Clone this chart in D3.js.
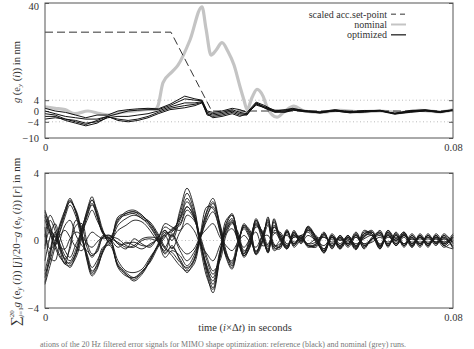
<!DOCTYPE html>
<html><head><meta charset="utf-8">
<script src="https://cdn.jsdelivr.net/npm/d3@7"></script>
<style>
html,body{margin:0;padding:0;background:#fff;}
svg, svg text{font-family:"Liberation Serif","DejaVu Serif",serif;}
</style></head>
<body><svg id="c" width="474" height="349" font-family="Liberation Serif, DejaVu Serif, serif"></svg>
<script>
// ---------- data (time in ms) ----------
const setpointT = [0, 24.7, 32.7, 80];
const setpointV = [29.2, 29.2, 0, 0];

const nominalT = [0,1.96,3.92,5.88,8.43,10.78,12.75,14.71,17.65,19.61,21.57,22.16,23.14,24.9,26.08,28.43,30.78,31.57,32.55,33.53,34.71,35.88,37.06,38.24,39.02,39.61,40.59,41.57,42.75,43.53,45.49,47.06,48.82,50.78,53.92,57.84,61.76,65.69,69.61,73.53,77.45,80];
const nominalV = [1.5,1.0,0.5,-1.0,0.0,-1.0,-1.5,-0.5,0.0,0.5,0.6,2.0,10.5,14.5,17.0,26.3,38.6,30.5,20.7,22.5,25.3,22.0,17.0,9.0,4.0,0.5,5.0,8.0,5.5,1.5,-2.3,0.0,1.8,0.0,-0.5,0.2,-0.3,0.0,-0.6,0.2,-0.3,0.4];

const optT = [0,2,4,6,8,10.2,12.3,14.3,16.3,18.2,20.2,22.2,24.5,27.4,29.4,30.8,31.8,32.9,34.7,36.7,38.2,39.6,41.4,43.1,45.1,47.1,48.6,51,53.9,56.9,59.8,62.7,65.7,68.6,71.6,74.5,77.5,80];
const opt1 = [1,0,-0.5,-1.5,-2.5,-1.5,-1.5,0,0.5,0.8,1,0.8,2.5,5.5,4.5,4,0,-0.5,0,1,0.5,-0.5,3.3,2,0,0.5,1,0,-0.5,0.3,-0.2,0.2,0,-0.8,0.2,0.3,-0.2,0.5];
const opt2 = [0,-1,-2,-2.5,-3,-3,-2,-1,0,0.3,0.5,0.5,2,4.5,4,3.8,-0.5,-1,-0.5,0.5,-0.5,-1,3,1.5,0.3,0.3,0.8,0.2,-0.3,0.5,-0.4,0,0.3,-1,0,0.5,-0.3,0.3];
const opt3 = [-1,-1.5,-3,-3.5,-4.5,-4,-2.5,-2,-2,-1.5,-1,0,1.5,3,3,3.5,-1,-1.5,-1,0,-1,-1.2,2.5,1.5,-0.2,0,0.5,-0.2,-0.6,0,-0.6,-0.3,0,-1.2,-0.3,0.2,-0.5,0.2];
const opt4 = [-2,-2,-3.5,-4.5,-5.5,-4.5,-2.2,-3,-3.5,-3,-2,-0.5,1,2,2.5,3.2,-1.5,-2,-1.5,-0.5,-1.5,-1.5,2.8,1,-0.5,-0.3,0.5,0,-0.8,0.2,-0.5,-0.2,0.2,-1,-0.5,0,-0.4,0.4];
const opt5 = [-3,-2.5,-3,-4,-5,-3.5,-2,-3.5,-4,-3.5,-2.5,-1,0.5,1.2,2,3,-1,-2.5,-2,-1,-2,-1,2.2,1.2,-0.3,-0.5,0.3,-0.3,-0.5,0,-0.7,-0.4,0.1,-0.9,-0.2,0.1,-0.6,0.3];

const devT = [0,0.98,1.96,2.94,3.92,4.90,6.08,7.25,8.24,9.22,10.20,11.37,12.75,14.31,15.88,17.45,19.02,20.59,22.16,23.53,24.90,26.47,27.84,29.22,30.39,31.76,32.94,34.31,35.49,36.67,37.84,39.02,40.20,41.37,42.55,43.73,44.90,46.08,47.45,48.82,50.20,51.57,53.14,54.71,56.27,57.84,59.41,60.98,62.55,64.12,65.69,67.25,68.82,70.39,71.96,73.53,75.10,76.67,78.24,80.00];
const dev1 = [1.8,0.9,0.2,0.8,1.8,2.5,1.6,0.2,-1.0,-1.9,-1.4,-0.4,-0.3,-1.5,-2.0,-2.4,-2.0,-1.2,-0.2,0.6,0.2,1.8,3.1,2.0,0.0,-2.0,-3.1,-1.0,1.0,1.6,0.2,-1.0,-0.3,1.3,0.4,-0.7,0.9,0.3,-0.5,0.4,0.0,0.8,0.1,-0.7,0.3,-0.4,0.2,-0.5,0.3,0.6,-0.4,0.5,-0.2,0.4,-0.3,0.2,-0.3,0.3,-0.2,0.3];
const dev2 = [-2.5,-1.0,0.3,-0.5,-1.2,-1.6,-0.8,0.6,1.8,2.6,1.6,0.5,0.2,1.2,1.7,1.8,1.5,1.0,0.2,-0.8,-0.3,-1.2,-1.9,-1.2,0.2,1.8,2.5,0.8,-1.0,-1.7,-0.3,1.0,0.4,-0.85,-0.2,1.4,-0.4,-0.5,0.6,-0.3,0.3,-0.4,-0.2,0.5,-0.5,0.3,-0.3,0.4,-0.5,0.2,0.5,-0.3,0.4,-0.4,0.3,-0.3,0.4,-0.2,0.3,-0.5];
const dev3 = [1.2,0.4,-0.3,0.5,1.4,2.1,1.4,0.0,-0.8,-1.6,-1.2,-0.5,0.0,-1.2,-1.8,-1.9,-1.7,-1.0,-0.3,0.4,0.5,1.4,2.5,1.6,0.1,-1.6,-2.6,-0.8,0.8,1.3,0.0,-0.8,0.2,1.0,0.1,-0.6,1.1,0.0,-0.4,0.6,-0.2,0.6,0.3,-0.5,0.4,-0.2,0.3,-0.3,0.2,0.5,-0.3,0.6,-0.1,0.5,-0.2,0.3,-0.2,0.2,-0.3,0.2];
const dev4 = [-1.8,-0.6,0.5,-0.2,-0.9,-1.2,-0.5,0.8,1.5,2.2,1.4,0.4,-0.1,0.9,1.3,1.5,1.3,0.8,0.0,-1.0,-0.6,-0.9,-1.5,-0.9,0.3,2.0,1.9,0.5,-0.8,-1.4,-0.2,0.8,0.2,-0.7,0.0,1.2,-0.2,-0.4,0.5,-0.1,0.2,-0.3,-0.4,0.3,-0.3,0.2,-0.4,0.2,-0.4,0.1,0.4,-0.2,0.3,-0.3,0.2,-0.4,0.3,-0.1,0.2,-0.4];
const dev5 = [0.4,-0.5,-0.2,0.3,0.6,0.2,-0.4,-0.6,0.1,0.5,0.3,0.1,0.2,0.1,-0.3,-0.4,0.0,0.1,0.0,0.3,-0.5,0.5,1.0,0.6,-0.2,-0.8,-1.2,-0.3,0.4,0.7,0.1,-0.4,0.1,0.5,-0.3,-0.2,0.5,0.1,-0.3,0.3,-0.1,0.3,0.0,-0.3,0.2,0.0,0.1,-0.2,0.1,0.3,-0.2,0.2,0.0,0.3,-0.1,0.1,-0.1,0.1,-0.1,0.1];
const dev6 = [-0.5,1.2,0.6,-0.6,-1.4,-0.3,1.2,0.8,-0.4,-1.0,-0.5,0.3,0.1,-0.4,-0.1,-0.3,-0.5,-0.2,0.1,1.0,0.8,0.6,1.5,1.2,0.3,-1.0,-1.8,-1.2,0.3,1.0,0.5,-0.6,-0.2,0.8,0.6,-0.3,0.4,0.5,-0.2,0.2,0.3,0.5,-0.1,-0.6,0.1,-0.5,0.3,-0.4,0.4,0.4,-0.5,0.4,-0.3,0.2,-0.4,0.3,-0.4,0.4,-0.1,0.4];
const dev7 = [-2.6,-1.5,-0.4,0.9,1.6,2.3,1.8,0.4,-1.2,-2.1,-1.7,-0.6,0.1,-1.6,-2.1,-2.2,-1.8,-1.3,-0.4,0.2,0.7,1.0,2.0,1.4,-0.1,-1.5,-2.2,-0.6,0.6,1.1,-0.1,-0.9,-0.4,1.1,0.5,-0.75,1.3,0.2,-0.5,0.5,0.1,0.85,0.2,-0.75,0.2,-0.5,0.0,-0.55,0.6,0.3,-0.5,0.6,0.1,0.5,-0.4,0.4,-0.2,0.1,-0.4,0.0];
const dev8 = [1.7,0.8,-0.2,-0.9,-1.4,-1.5,-1.0,0.2,1.6,2.4,1.8,0.6,-0.2,1.4,1.6,1.7,1.4,1.1,0.4,-0.4,-0.9,-1.5,-1.8,-1.4,0.0,1.4,2.2,1.0,-0.6,-1.5,-0.4,0.9,0.6,-0.8,0.3,1.0,-0.6,-0.3,0.65,-0.4,0.0,-0.3,-0.3,0.4,-0.4,0.3,-0.2,0.5,-0.3,0.0,0.6,-0.4,0.5,-0.2,0.4,-0.2,0.2,-0.3,0.4,-0.2];
const dev9 = [0.8,-1.0,-1.2,0.0,0.9,1.2,0.3,-0.3,-0.6,-0.9,-0.6,0.2,0.3,-0.2,-0.5,0.1,-0.2,-0.4,0.2,0.6,0.0,1.2,2.0,1.4,-0.3,-2.2,-2.9,-0.9,1.2,1.5,0.3,-0.8,0.0,1.2,0.2,-0.5,0.8,0.4,-0.4,0.2,0.1,0.7,0.0,-0.6,0.3,-0.3,0.2,-0.4,0.2,0.5,-0.3,0.3,-0.3,0.3,-0.2,0.2,-0.3,0.2,-0.2,0.2];
const dev10 = [-1.2,0.2,1.0,0.2,-0.6,-1.0,-0.2,0.5,1.2,1.8,1.2,0.5,0.0,0.6,0.9,1.2,1.1,0.6,-0.1,-0.6,0.3,-0.6,-1.2,-0.7,0.1,1.2,1.7,0.6,-0.9,-1.2,0.0,0.7,0.1,-0.6,-0.1,0.9,-0.3,-0.2,0.4,-0.2,0.2,-0.2,-0.1,0.2,-0.2,0.1,-0.2,0.3,-0.2,0.1,0.3,-0.1,0.2,-0.2,0.1,-0.2,0.2,-0.1,0.1,-0.3];
const dev11 = [1.5,0.6,0.0,0.6,1.6,2.3,1.7,0.3,-0.9,-1.8,-1.5,-0.6,-0.2,-1.4,-1.9,-2.2,-1.9,-1.1,-0.3,0.5,0.3,1.6,2.8,1.8,0.1,-1.8,-2.8,-0.9,0.9,1.5,0.3,-0.9,-0.2,1.2,0.5,-0.6,0.8,0.2,-0.4,0.5,-0.1,0.7,0.2,-0.6,0.3,-0.3,0.3,-0.4,0.4,0.5,-0.3,0.4,-0.3,0.4,-0.2,0.3,-0.2,0.3,-0.3,0.2];
const dev12 = [-2.2,-0.8,0.4,-0.4,-1.1,-1.4,-0.7,0.7,1.7,2.4,1.5,0.4,0.1,1.1,1.6,1.7,1.5,0.9,0.1,-0.7,-0.4,-1.1,-1.7,-1.1,0.2,1.7,2.3,0.7,-0.9,-1.6,-0.3,0.9,0.3,-0.8,-0.1,1.3,-0.3,-0.4,0.5,-0.2,0.3,-0.3,-0.3,0.4,-0.4,0.2,-0.2,0.3,-0.4,0.1,0.4,-0.3,0.3,-0.3,0.2,-0.3,0.3,-0.2,0.2,-0.4];
const dev13 = [-0.3,0.6,0.2,-0.4,-0.5,0.1,0.5,0.3,-0.2,-0.4,-0.1,0.2,0.1,-0.1,-0.4,-0.3,0.1,0.2,0.1,-0.4,0.4,-0.4,-0.8,-0.5,0.2,0.7,1.0,0.2,-0.3,-0.6,-0.1,0.3,-0.1,-0.4,0.2,0.3,-0.4,0.0,0.3,-0.2,0.1,-0.2,0.1,0.2,-0.1,0.1,-0.1,0.2,-0.2,-0.1,0.2,-0.2,0.1,-0.2,0.1,-0.1,0.1,-0.1,0.1,-0.1];
const dev14 = [-2.0,-1.2,-0.1,1.0,1.8,2.4,1.7,0.3,-1.1,-2.0,-1.6,-0.7,0.0,-1.5,-2.0,-2.3,-1.9,-1.2,-0.3,0.3,0.6,1.3,2.3,1.5,0.0,-1.7,-2.4,-0.7,0.7,1.2,0.0,-0.9,-0.3,1.0,0.4,-0.7,1.2,0.1,-0.5,0.4,0.0,0.8,0.1,-0.7,0.2,-0.4,0.1,-0.5,0.5,0.4,-0.4,0.5,0.0,0.4,-0.3,0.3,-0.3,0.2,-0.3,-0.5];
const dev15 = [1.4,0.5,-0.4,-1.0,-1.3,-1.3,-0.8,0.4,1.4,2.1,1.6,0.5,-0.1,1.3,1.5,1.6,1.3,1.0,0.3,-0.5,-0.7,-1.3,-1.6,-1.2,0.1,1.5,2.0,0.9,-0.7,-1.3,-0.3,0.8,0.5,-0.7,0.2,1.1,-0.5,-0.3,0.55,-0.3,0.1,-0.3,-0.2,0.4,-0.3,0.2,-0.3,0.4,-0.3,0.1,0.5,-0.3,0.4,-0.3,0.3,-0.2,0.3,-0.2,0.3,-0.1];
const dev16 = [0.2,1.5,0.9,-0.3,-1.1,-0.5,0.9,1.0,-0.1,-0.8,-0.7,0.2,0.3,-0.2,-0.2,-0.1,-0.3,-0.3,0.2,0.8,0.6,0.9,1.8,1.3,0.2,-1.2,-2.0,-1.0,0.5,1.1,0.3,-0.7,-0.1,0.9,0.4,-0.4,0.6,0.4,-0.3,0.3,0.2,0.6,0.0,-0.5,0.2,-0.4,0.2,-0.3,0.3,0.3,-0.4,0.3,-0.2,0.3,-0.3,0.2,-0.3,0.3,-0.2,0.3];

const topTicks = [40, 4, 0, -4, -10];
const botTicks = [4, 0, -4];
const xTickLabels = ["0", "0.08"];

// ---------- drawing ----------
const FONT = "Liberation Serif, DejaVu Serif, serif";
const TXT = "#333";
const svg = d3.select("#c");
const FS = 10.5;
const x = d3.scaleLinear().domain([0, 0.08]).range([45, 453]);
const yT = d3.scaleLinear().domain([-10, 40]).range([138, 3]);
const yB = d3.scaleLinear().domain([-4, 4]).range([308, 173]);
const frameCol = "#555";

function zip(t, v){ return t.map((d,i)=>[d/1000, v[i]]); }

function panel(y, ticks, refLines){
  const g = svg.append("g");
  refLines.forEach(v=>{
    g.append("line").attr("x1", x(0)).attr("x2", x(0.08)).attr("y1", y(v)).attr("y2", y(v))
     .attr("stroke", "#aaa").attr("stroke-width", 0.8).attr("stroke-dasharray", "1,2.5");
  });
  const la = d3.axisLeft(y).tickValues(ticks).tickSize(-4).tickPadding(6)
     .tickFormat(d=> d<0 ? "\u2212"+Math.abs(d) : String(d));
  const lg = g.append("g").attr("transform", `translate(${x(0)},0)`).call(la);
  lg.attr("font-family", FONT);
  lg.select(".domain").remove();
  lg.selectAll("line").attr("stroke", frameCol);
  lg.selectAll("text").attr("font-size", FS).attr("font-family", FONT).attr("fill", TXT)
    .attr("dy", d => d === 40 ? "0.62em" : "0.32em");
  const ra = d3.axisRight(y).tickValues(ticks).tickSize(-4).tickFormat("");
  const rg = g.append("g").attr("transform", `translate(${x(0.08)},0)`).call(ra);
  rg.select(".domain").remove();
  rg.selectAll("line").attr("stroke", frameCol);
  const ba = d3.axisBottom(x).tickValues([0, 0.08]).tickSize(0).tickPadding(6)
     .tickFormat((d,i)=>xTickLabels[i]);
  const bg = g.append("g").attr("transform", `translate(0,${y.range()[0]})`).call(ba);
  bg.attr("font-family", FONT);
  bg.select(".domain").remove();
  bg.selectAll("text").attr("font-size", FS).attr("font-family", FONT).attr("fill", TXT);
  return g;
}

function frame(y){
  svg.append("rect").attr("x", x(0)).attr("y", y.range()[1]).attr("width", x(0.08)-x(0))
     .attr("height", y.range()[0]-y.range()[1]).attr("fill", "none").attr("stroke", frameCol).attr("stroke-width", 1);
}
function txt(sel){ return sel.attr("font-family", FONT).attr("fill", TXT); }

// ---- top panel ----
panel(yT, topTicks, [4, -4]);
svg.append("path").datum(zip(nominalT, nominalV))
   .attr("d", d3.line().x(d=>x(d[0])).y(d=>yT(d[1])).curve(d3.curveMonotoneX))
   .attr("fill", "none").attr("stroke", "#c4c4c4").attr("stroke-width", 3.2).attr("stroke-linejoin", "round");
svg.append("path").datum(zip(setpointT, setpointV))
   .attr("d", d3.line().x(d=>x(d[0])).y(d=>yT(d[1])))
   .attr("fill", "none").attr("stroke", "#333").attr("stroke-width", 1).attr("stroke-dasharray", "8,4");
[opt1, opt2, opt3, opt4, opt5].forEach(s=>{
  svg.append("path").datum(zip(optT, s)).attr("d", d3.line().x(d=>x(d[0])).y(d=>yT(d[1])))
    .attr("fill", "none").attr("stroke", "#111").attr("stroke-width", 1);
});
frame(yT);

// legend
const legend = [
  {label: "scaled acc.set-point", stroke: "#333", w: 1, dash: "5,4"},
  {label: "nominal", stroke: "#c4c4c4", w: 2, dash: null},
  {label: "optimized", stroke: "#111", w: 1.2, dash: null}
];
const legY = d3.scaleBand().domain(legend.map(d=>d.label)).range([9, 40]);
legend.forEach(d=>{
  const cy = legY(d.label) + legY.bandwidth()/2;
  txt(svg.append("text")).attr("x", 387).attr("y", cy).attr("dy", "0.35em").attr("text-anchor", "end")
     .attr("font-size", 10).text(d.label);
  const l = svg.append("line").attr("x1", 391).attr("x2", 406).attr("y1", cy).attr("y2", cy)
     .attr("stroke", d.stroke).attr("stroke-width", d.w);
  if (d.dash) l.attr("stroke-dasharray", d.dash);
});

// top y label
const tyl = txt(svg.append("text")).attr("transform", "translate(20,72) rotate(-90)").attr("text-anchor", "middle")
   .attr("font-size", 10.5);
tyl.append("tspan").attr("font-style", "italic").text("g");
tyl.append("tspan").text(" (e");
tyl.append("tspan").attr("font-size", 7).attr("dy", 2).attr("font-style", "italic").text("y");
tyl.append("tspan").attr("dy", -2).text(" (");
tyl.append("tspan").attr("font-style", "italic").text("i");
tyl.append("tspan").text(")) in nm");

// ---- bottom panel ----
panel(yB, botTicks, [0]);
const lineB = d3.line().x(d=>x(d[0])).y(d=>yB(d[1])).curve(d3.curveCatmullRom.alpha(0.5));
[dev1, dev2, dev3, dev4, dev5, dev6, dev7, dev8, dev9, dev10, dev11, dev12, dev13, dev14, dev15, dev16].forEach(s=>{
  svg.append("path").datum(zip(devT, s)).attr("d", lineB)
     .attr("fill", "none").attr("stroke", "#1a1a1a").attr("stroke-width", 0.9);
});
frame(yB);

// bottom y label
const byl = txt(svg.append("text")).attr("transform", "translate(20,242) rotate(-90)").attr("text-anchor", "middle")
   .attr("font-size", 11);
byl.append("tspan").attr("font-size", 13.5).text("\u2211");
byl.append("tspan").attr("font-size", 7).attr("dy", 3).attr("font-style", "italic").text("j");
byl.append("tspan").attr("font-size", 7).text("=1");
byl.append("tspan").attr("font-size", 7).attr("dy", -9).attr("dx", -10).text("20");
byl.append("tspan").attr("dy", 6).text(" ");
byl.append("tspan").attr("font-style", "italic").text("g");
byl.append("tspan").text(" (e");
byl.append("tspan").attr("font-size", 7.5).attr("dy", 2).attr("font-style", "italic").text("y");
byl.append("tspan").attr("dy", -2).text(" (");
byl.append("tspan").attr("font-style", "italic").text("i");
byl.append("tspan").text(")) [");
byl.append("tspan").attr("font-style", "italic").text("j");
byl.append("tspan").text("]/20\u2212");
byl.append("tspan").attr("font-style", "italic").text("g");
byl.append("tspan").text(" (e");
byl.append("tspan").attr("font-size", 7.5).attr("dy", 2).attr("font-style", "italic").text("y");
byl.append("tspan").attr("dy", -2).text(" (");
byl.append("tspan").attr("font-style", "italic").text("i");
byl.append("tspan").text(")) [");
byl.append("tspan").attr("font-style", "italic").text("r");
byl.append("tspan").text("] in nm");

// x axis title
const xt = txt(svg.append("text")).attr("x", 245).attr("y", 331).attr("text-anchor", "middle")
   .attr("font-size", 10.5);
xt.append("tspan").text("time (");
xt.append("tspan").attr("font-style", "italic").text("i");
xt.append("tspan").text("\u00d7\u0394");
xt.append("tspan").attr("font-style", "italic").text("t");
xt.append("tspan").text(") in seconds");

// caption line at the bottom edge
txt(svg.append("text")).attr("x", 40).attr("y", 347).attr("font-size", 8).attr("fill", "#777")
   .text("ations of the 20 Hz filtered error signals for MIMO shape optimization: reference (black) and nominal (grey) runs.");
</script></body></html>
